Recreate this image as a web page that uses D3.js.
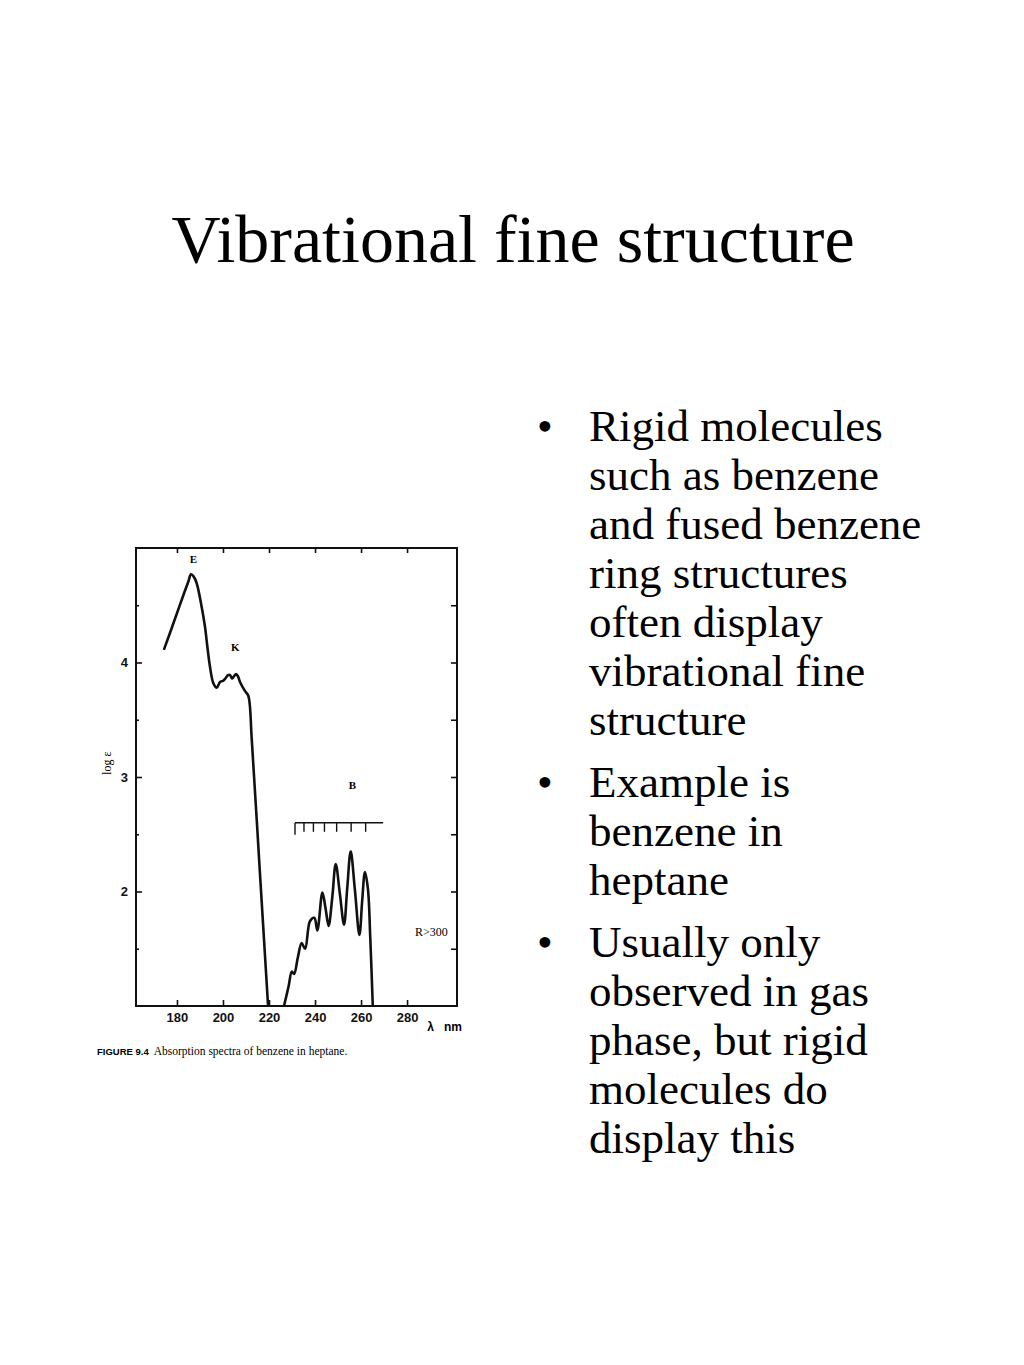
<!DOCTYPE html>
<html>
<head>
<meta charset="utf-8">
<title>Vibrational fine structure</title>
<script src="https://cdn.jsdelivr.net/npm/d3@7"></script>
<style>
  html, body { margin: 0; padding: 0; background: #fff; }
  svg { display: block; }
</style>
</head>
<body>
<div id="slide"></div>
<script>
// absorption spectrum of benzene in heptane
// E and K bands
const ekWavelength = [174.3, 177, 180, 183, 185, 186.1, 187.3, 188.6, 190.7, 192.2, 193.2, 194.3, 195.8, 197.3, 198.7, 200, 201, 202.2, 203.1, 203.9, 204.8, 205.7, 206.5, 207.4, 209.6, 211, 212.5, 216, 219.6];
const ekLogEps    = [4.11, 4.26, 4.43, 4.60, 4.71, 4.77, 4.75, 4.69, 4.49, 4.31, 4.14, 3.97, 3.82, 3.78, 3.83, 3.84, 3.86, 3.89, 3.89, 3.86, 3.88, 3.90, 3.88, 3.83, 3.75, 3.71, 3.33, 2.18, 1.0];

// B band with vibrational fine structure
const bWavelength = [226.5, 228.5, 229.9, 230.9, 232.5, 234.2, 235.7, 237.8, 239.7, 241, 243.2, 244.6, 245.9, 247.5, 249, 250.8, 252.6, 254, 255.5, 257.3, 259.3, 260.5, 261.7, 263, 264, 265.1];
const bLogEps    = [1.0, 1.17, 1.30, 1.28, 1.42, 1.55, 1.50, 1.74, 1.77, 1.66, 1.99, 1.85, 1.70, 1.95, 2.24, 1.98, 1.71, 2.03, 2.35, 2.02, 1.62, 1.92, 2.17, 2.02, 1.6, 1.0];

// vibrational comb above the B band
const combPositions = [231.3, 235.2, 239.3, 244.1, 249.4, 255.7, 262.0];
const combEnd = 269.6;
const combLevel = 2.6;

// axes
const xTicks = [180, 200, 220, 240, 260, 280];
const yMajorTicks = [2, 3, 4];
const yMinorTicks = [1.5, 2.5, 3.5, 4.5];
const xDomain = [162.2, 301.7];
const yDomain = [1, 5];

// band labels
const bandLabels = [
  { text: "E", wl: 187.2, le: 4.9 },
  { text: "K", wl: 205.3, le: 4.13 },
  { text: "B", wl: 256.2, le: 2.93 },
  { text: "R>300", wl: 290.6, le: 1.65 }
];

// slide text
const title = "Vibrational fine structure";
const bullets = [
  ["Rigid molecules", "such as benzene", "and fused benzene", "ring structures", "often display", "vibrational fine", "structure"],
  ["Example is", "benzene in", "heptane"],
  ["Usually only", "observed in gas", "phase, but rigid", "molecules do", "display this"]
];

const W = 1024, H = 1365;
const serif = "'Liberation Serif', 'Times New Roman', serif";
const sans = "'Liberation Sans', Arial, sans-serif";

const svg = d3.select("#slide").append("svg")
  .attr("width", W)
  .attr("height", H);

// title
svg.append("text")
  .attr("x", 513)
  .attr("y", 262)
  .attr("text-anchor", "middle")
  .style("font-family", serif)
  .style("font-size", "68px")
  .text(title);

// bullets
let baseY = 441;
bullets.forEach(lines => {
  svg.append("text")
    .attr("x", 537)
    .attr("y", baseY)
    .style("font-family", serif)
    .style("font-size", "45px")
    .text("\u2022");
  lines.forEach((line, i) => {
    svg.append("text")
      .attr("x", 589)
      .attr("y", baseY + i * 49)
      .style("font-family", serif)
      .style("font-size", "45px")
      .text(line);
  });
  baseY += lines.length * 49 + 13;
});

// scales
const x = d3.scaleLinear().domain(xDomain).range([136, 457]);
const y = d3.scaleLinear().domain(yDomain).range([1006, 548]);

const chart = svg.append("g");

// frame
chart.append("rect")
  .attr("x", x(xDomain[0]))
  .attr("y", y(yDomain[1]))
  .attr("width", x(xDomain[1]) - x(xDomain[0]))
  .attr("height", y(yDomain[0]) - y(yDomain[1]))
  .attr("fill", "none")
  .attr("stroke", "#111")
  .attr("stroke-width", 2);

function styleAxis(g) {
  g.select(".domain").remove();
  g.selectAll(".tick line").attr("stroke", "#111").attr("stroke-width", 1.6);
  g.selectAll(".tick text")
    .attr("fill", "#111")
    .style("font-family", sans)
    .style("font-weight", "bold")
    .style("font-size", "13px");
}

// bottom axis, ticks pointing inward
chart.append("g")
  .attr("transform", `translate(0,${y(yDomain[0])})`)
  .call(d3.axisBottom(x).tickValues(xTicks).tickSizeInner(-6).tickSizeOuter(0).tickPadding(7))
  .call(styleAxis);

// top axis
chart.append("g")
  .attr("transform", `translate(0,${y(yDomain[1])})`)
  .call(d3.axisTop(x).tickValues(xTicks).tickSizeInner(-5).tickSizeOuter(0).tickFormat(""))
  .call(styleAxis);

// left axis
chart.append("g")
  .attr("transform", `translate(${x(xDomain[0])},0)`)
  .call(d3.axisLeft(y).tickValues(yMajorTicks).tickSizeInner(-6).tickSizeOuter(0).tickPadding(8).tickFormat(d3.format("d")))
  .call(styleAxis);
chart.append("g")
  .attr("transform", `translate(${x(xDomain[0])},0)`)
  .call(d3.axisLeft(y).tickValues(yMinorTicks).tickSizeInner(-3).tickSizeOuter(0).tickFormat(""))
  .call(styleAxis);

// right axis
chart.append("g")
  .attr("transform", `translate(${x(xDomain[1])},0)`)
  .call(d3.axisRight(y).tickValues(yMajorTicks.concat(yMinorTicks)).tickSizeInner(-6).tickSizeOuter(0).tickFormat(""))
  .call(styleAxis);

// axis titles
chart.append("text")
  .attr("transform", `translate(${x(xDomain[0]) - 29},${y(3.12)}) rotate(-90)`)
  .attr("text-anchor", "middle")
  .attr("dy", "0.35em")
  .style("font-family", serif)
  .style("font-size", "12px")
  .text("log \u03b5");

chart.append("text")
  .attr("x", x(xDomain[1]) + 5)
  .attr("y", y(yDomain[0]) + 25)
  .attr("text-anchor", "end")
  .style("font-family", sans)
  .style("font-weight", "bold")
  .style("font-size", "12px")
  .style("white-space", "pre")
  .text("\u03bb   nm");

// spectrum
const line = d3.line()
  .x(d => x(d[0]))
  .y(d => y(d[1]))
  .curve(d3.curveCatmullRom.alpha(0.5));

[[ekWavelength, ekLogEps], [bWavelength, bLogEps]].forEach(([wl, le]) => {
  chart.append("path")
    .datum(d3.zip(wl, le))
    .attr("d", line)
    .attr("fill", "none")
    .attr("stroke", "#111")
    .attr("stroke-width", 2.6)
    .attr("stroke-linejoin", "round");
});

// comb of vibrational levels
chart.append("line")
  .attr("x1", x(combPositions[0]))
  .attr("x2", x(combEnd))
  .attr("y1", y(combLevel))
  .attr("y2", y(combLevel))
  .attr("stroke", "#111")
  .attr("stroke-width", 1.4);

chart.selectAll(".comb")
  .data(combPositions)
  .enter()
  .append("line")
  .attr("class", "comb")
  .attr("x1", d => x(d))
  .attr("x2", d => x(d))
  .attr("y1", y(combLevel))
  .attr("y2", (d, i) => y(combLevel) + (i === 0 ? 12 : 9))
  .attr("stroke", "#111")
  .attr("stroke-width", 1.4);

// band labels
chart.selectAll(".band-label")
  .data(bandLabels)
  .enter()
  .append("text")
  .attr("class", "band-label")
  .attr("x", d => x(d.wl))
  .attr("y", d => y(d.le))
  .attr("dy", "0.35em")
  .attr("text-anchor", "middle")
  .style("font-family", serif)
  .style("font-size", d => d.text.length > 1 ? "12px" : "11px")
  .style("font-weight", d => d.text.length > 1 ? "normal" : "bold")
  .text(d => d.text);

// caption
const caption = svg.append("text")
  .attr("x", 97)
  .attr("y", 1055);
caption.append("tspan")
  .style("font-family", sans)
  .style("font-weight", "bold")
  .style("font-size", "9.5px")
  .text("FIGURE 9.4");
caption.append("tspan")
  .style("font-family", serif)
  .style("font-size", "11.5px")
  .attr("dx", 5)
  .text("Absorption spectra of benzene in heptane.");
</script>
</body>
</html>
